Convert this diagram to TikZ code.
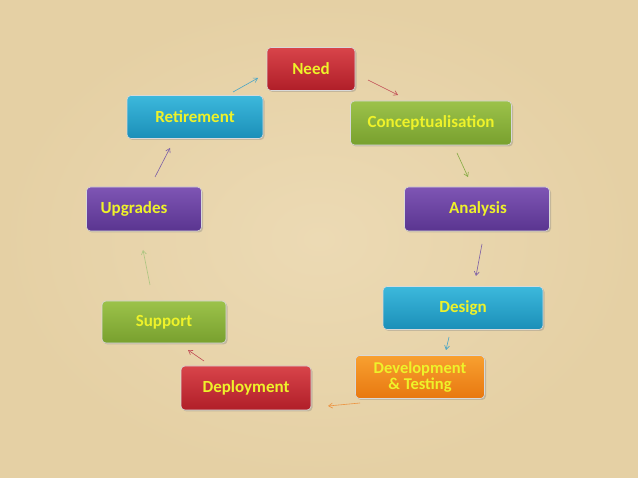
\documentclass[tikz,border=0pt]{standalone}
\usepackage{fontspec}
\setmainfont{Carlito}
\usetikzlibrary{shadows,arrows.meta}
\definecolor{bgA}{HTML}{ECDAB4}
\definecolor{bgB}{HTML}{E5D0A4}
\definecolor{txt}{HTML}{EEF22A}
\definecolor{redT}{HTML}{D8444A}\definecolor{redB}{HTML}{B01E28}
\definecolor{bluT}{HTML}{3CB8DC}\definecolor{bluB}{HTML}{1B8FB8}
\definecolor{grnT}{HTML}{9CC24A}\definecolor{grnB}{HTML}{78A02E}
\definecolor{purT}{HTML}{7E55B4}\definecolor{purB}{HTML}{5A3590}
\definecolor{orgT}{HTML}{F8A030}\definecolor{orgB}{HTML}{E87810}
\tikzset{
  box/.style={rounded corners=4pt, draw=white!70!gray, line width=0.6pt,
    minimum height=43pt, inner sep=2pt, align=center,
    font=\bfseries\fontsize{17}{17}\selectfont, text=txt,
    drop shadow={shadow xshift=1.5pt, shadow yshift=-1.5pt, opacity=0.35}},
  redbox/.style={box, top color=redT, bottom color=redB},
  blubox/.style={box, top color=bluT, bottom color=bluB},
  grnbox/.style={box, top color=grnT, bottom color=grnB},
  purbox/.style={box, top color=purT, bottom color=purB},
  orgbox/.style={box, top color=orgT, bottom color=orgB},
  conn/.style={-{Straight Barb[length=4pt,width=5pt]}, line width=0.6pt}
}
\begin{document}
\begin{tikzpicture}[x=1pt,y=-1pt]
\shade[inner color=bgA, outer color=bgB] (0,0) rectangle (638,478);
\useasboundingbox (0,0) rectangle (638,478);
\node[redbox, minimum width=88pt] (need) at (311,69) {Need};
\node[blubox, minimum width=136pt] (ret) at (195,117) {Retirement};
\node[grnbox, minimum width=161pt, minimum height=44pt] (con) at (431,123) {Conceptualisation};
\node[purbox, minimum width=115pt, minimum height=44pt] (upg) at (144,209) {Upgrades\hspace*{20pt}};
\node[purbox, minimum width=145pt, minimum height=44pt] (ana) at (477,209) {\hspace*{2pt}Analysis};
\node[blubox, minimum width=160pt] (des) at (463,308) {Design};
\node[grnbox, minimum width=124pt, minimum height=42pt] (sup) at (164,322) {Support};
\node[redbox, minimum width=130pt, minimum height=44pt] (dep) at (246,388) {Deployment};
\node[orgbox, minimum width=129pt, inner sep=1pt, font=\bfseries\fontsize{16.5}{16.5}\selectfont] (dev) at (420,377) {Development\\\& Testing};
\coordinate (a1) at (368,80); \coordinate (a2) at (398,95);
\coordinate (b1) at (457,153); \coordinate (b2) at (468,177);
\coordinate (c1) at (482,244); \coordinate (c2) at (476,276);
\coordinate (d1) at (449,337); \coordinate (d2) at (446,350);
\coordinate (e1) at (360,403); \coordinate (e2) at (328,406);
\coordinate (f1) at (204,361); \coordinate (f2) at (188,350);
\coordinate (g1) at (150,285); \coordinate (g2) at (143,250);
\coordinate (h1) at (155,177); \coordinate (h2) at (170,148);
\coordinate (i1) at (233,92); \coordinate (i2) at (258,78);
\draw[conn, color=redB!80] (a1) -- (a2);
\draw[conn, color=grnB!90] (b1) -- (b2);
\draw[conn, color=purB!80] (c1) -- (c2);
\draw[conn, color=bluB!80] (d1) -- (d2);
\draw[conn, color=orgB!80] (e1) -- (e2);
\draw[conn, color=redB!80] (f1) -- (f2);
\draw[conn, color=grnB!60] (g1) -- (g2);
\draw[conn, color=purB!80] (h1) -- (h2);
\draw[conn, color=bluB!80] (i1) -- (i2);
\end{tikzpicture}
\end{document}
